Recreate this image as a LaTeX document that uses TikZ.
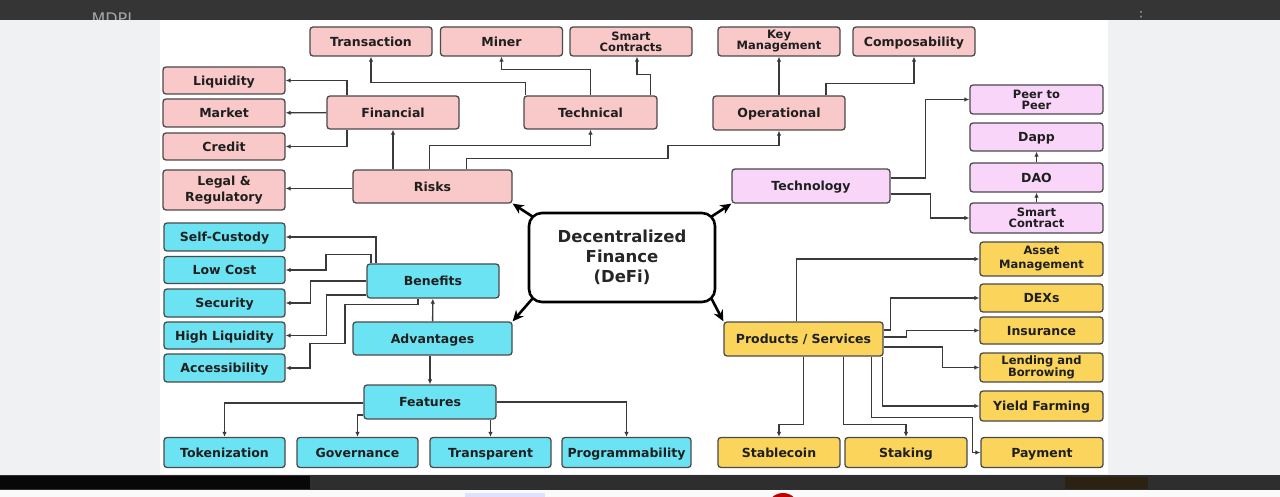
\documentclass[tikz,border=0pt]{standalone}
\usepackage{fontspec}
\setmainfont{DejaVu Sans}
\usetikzlibrary{positioning,arrows.meta}
\definecolor{riskfill}{HTML}{F9C8C8}
\definecolor{techfill}{HTML}{F9D6F9}
\definecolor{advfill}{HTML}{6CE3F2}
\definecolor{prodfill}{HTML}{FBD55B}
\definecolor{edge}{HTML}{4A4A4A}
\definecolor{wire}{HTML}{3A3A3A}
\definecolor{chrome}{HTML}{353535}
\definecolor{pagegray}{HTML}{F0F1F3}
\definecolor{tabbrown}{HTML}{2C2212}

\begin{document}
\begin{tikzpicture}[x=1pt,y=-1pt,
  b/.style={draw=edge,line width=1.3pt,rounded corners=3pt,align=center,inner sep=0pt,
    text=black!88,minimum width=122pt,minimum height=29pt,text height=9.4pt,text depth=0pt,
    font=\bfseries\fontsize{12.5}{15}\selectfont},
  sm/.style={text height=,text depth=,font=\bfseries\fontsize{11.5}{11}\selectfont},
  riskbox/.style={b,fill=riskfill},
  techbox/.style={b,fill=techfill},
  advbox/.style={b,fill=advfill},
  prodbox/.style={b,fill=prodfill},
  ln/.style={draw=wire,line width=1.4pt,-{Latex[length=5pt,width=4.5pt]}},
  big/.style={line width=2.6pt,-{Stealth[length=11pt,width=10pt]}}]

  % screen around the figure
  \useasboundingbox (0,0) rectangle (1280,497);
  \begin{scope}
    \clip (0,0) rectangle (1280,497);
    \fill[chrome] (0,0) rectangle (1280,20);
    \node[text=gray!70,font=\fontsize{16}{16}\selectfont,anchor=west] (mdpi) at (88,19) {MDPI};
    \node[text=gray!70,font=\fontsize{14}{14}\selectfont] (dots) at (1141,17) {⋮};
    \fill[pagegray] (0,20) rectangle (1280,497);
    \fill[white] (160,20) rectangle (1108,474);
    \fill[black!82] (0,475) rectangle (1280,490);
    \fill[black!97] (0,476) rectangle (310,489);
    \fill[tabbrown] (1065,477) rectangle (1148,489);
    \fill[white!98!black] (0,490) rectangle (1280,497);
    \fill[blue!12] (465,493) rectangle (545,503);
    \fill[red!75!black] (783,509) circle (16);
  \end{scope}

  \node[riskbox] (trn) at (371,41.5) {Transaction};
  \node[riskbox] (mnr) at (501.5,41.5) {Miner};
  \node[riskbox,sm] (smc) at (631,41.5) {Smart\\Contracts};
  \node[riskbox,sm] (key) at (779,41.5) {Key\\Management};
  \node[riskbox] (cmp) at (914,41.5) {Composability};

  \node[riskbox,minimum height=27pt] (liq) at (224,80.5) {Liquidity};
  \node[riskbox,minimum height=28pt] (mkt) at (224,113) {Market};
  \node[riskbox,minimum height=27pt] (crd) at (224,146.5) {Credit};
  \node[riskbox,sm,minimum height=40pt,font=\bfseries\fontsize{12.5}{16}\selectfont] (leg) at (224,190) {Legal \&\\Regulatory};
  \node[riskbox,minimum width=132pt,minimum height=33pt] (fin) at (393,112.5) {Financial};
  \node[riskbox,minimum width=133pt,minimum height=33pt] (tec) at (590.5,112.5) {Technical};
  \node[riskbox,minimum width=132pt,minimum height=34pt] (opr) at (779,113) {Operational};
  \node[riskbox,minimum width=159pt,minimum height=33pt] (rsk) at (432.5,186.5) {Risks};

  \node[techbox,minimum width=158pt,minimum height=34pt] (tch) at (811,186) {Technology};
  \node[techbox,sm,minimum width=133pt] (p2p) at (1036.5,99.5) {Peer to\\Peer};
  \node[techbox,minimum width=133pt,minimum height=28pt] (dap) at (1036.5,137) {Dapp};
  \node[techbox,minimum width=133pt] (dao) at (1036.5,177.5) {DAO};
  \node[techbox,sm,minimum width=133pt,minimum height=30pt] (sct) at (1036.5,218) {Smart\\Contract};

  \node[draw=black,line width=2.6pt,rounded corners=13pt,fill=white,minimum width=186pt,
    minimum height=89pt,align=center,text=black!85,
    font=\bfseries\fontsize{16.5}{20}\selectfont] (dfi) at (622,257.5) {Decentralized\\Finance\\(DeFi)};

  \node[advbox,minimum width=121pt,minimum height=28pt] (slf) at (224.5,237) {Self-Custody};
  \node[advbox,minimum width=121pt,minimum height=27pt] (low) at (224.5,270) {Low Cost};
  \node[advbox,minimum width=121pt,minimum height=28pt] (sec) at (224.5,303) {Security};
  \node[advbox,minimum width=121pt,minimum height=27pt] (hlq) at (224.5,335.5) {High Liquidity};
  \node[advbox,minimum width=121pt,minimum height=28pt] (acc) at (224.5,368) {Accessibility};
  \node[advbox,minimum width=132pt,minimum height=34pt] (ben) at (433,281) {Benefits};
  \node[advbox,minimum width=159pt,minimum height=33pt] (adv) at (432.5,338.5) {Advantages};
  \node[advbox,minimum width=132pt,minimum height=34pt] (fea) at (430,402) {Features};
  \node[advbox,minimum width=121pt,minimum height=30pt] (tok) at (224.5,452.5) {Tokenization};
  \node[advbox,minimum width=121pt,minimum height=30pt] (gov) at (357.5,452.5) {Governance};
  \node[advbox,minimum width=121pt,minimum height=30pt] (trp) at (490.5,452.5) {Transparent};
  \node[advbox,minimum width=129pt,minimum height=30pt] (prg) at (626.5,452.5) {Programmability};

  \node[prodbox,minimum width=159pt,minimum height=34pt] (prd) at (803.5,339) {Products / Services};
  \node[prodbox,sm,minimum width=123pt,minimum height=34pt,font=\bfseries\fontsize{11.5}{14}\selectfont] (ast) at (1041.5,259) {Asset\\Management};
  \node[prodbox,minimum width=123pt,minimum height=28pt] (dex) at (1041.5,298) {DEXs};
  \node[prodbox,minimum width=123pt,minimum height=27pt] (ins) at (1041.5,330.5) {Insurance};
  \node[prodbox,sm,minimum width=123pt,minimum height=29pt,font=\bfseries\fontsize{11.5}{12.5}\selectfont] (lnd) at (1041.5,367.5) {Lending and\\Borrowing};
  \node[prodbox,minimum width=123pt,minimum height=30pt] (yld) at (1041.5,406) {Yield Farming};
  \node[prodbox,minimum width=122pt,minimum height=30pt] (stb) at (779,452.5) {Stablecoin};
  \node[prodbox,minimum width=122pt,minimum height=30pt] (stk) at (906,452.5) {Staking};
  \node[prodbox,minimum width=122pt,minimum height=30pt] (pay) at (1042,452.5) {Payment};

  \draw[ln] ([xshift=-65pt]tec.north) -- ++(0,-13) -| (trn);
  \draw[ln] (tec.north) -- ++(0,-26) -| (mnr);
  \draw[ln] ([xshift=60pt]tec.north) -- ++(0,-21) -| ([xshift=6pt]smc.south);
  \draw[ln] (opr) -- (key);
  \draw[ln] ([xshift=47pt]opr.north) -- ++(0,-12) -| (cmp);
  \draw[ln] ([xshift=-46pt]fin.north) |- (liq);
  \draw[ln] (fin) -- (mkt);
  \draw[ln] ([xshift=-46pt]fin.south) |- (crd);
  \draw[ln] (rsk.north -| fin) -- (fin);
  \draw[ln] ([yshift=-2pt]rsk.west) -- ([yshift=-2pt]rsk.west -| leg.east);
  \draw[ln] ([xshift=-3pt]rsk.north) -- ++(0,-24) -| (tec);
  \draw[ln] ([xshift=34pt]rsk.north) -- ++(0,-11) -- ++(201.5,0) -- ++(0,-13) -| (opr);

  \draw[ln] ([yshift=8pt]tch.east) -- ++(35,0) |- (p2p);
  \draw[ln] ([yshift=-8pt]tch.east) -- ++(40,0) |- (sct);
  \draw[ln] (sct) -- (dao);
  \draw[ln] (dao) -- (dap);

  \draw[ln] (adv) -- (ben);
  \draw[ln] (adv.south -| fea) -- (fea);
  \draw[ln] ([xshift=-57pt]ben.north) |- (slf);
  \draw[ln] ([xshift=-62pt]ben.north) -- ++(0,-9) -- ++(-45,0) |- (low);
  \draw[ln] (ben.west) -- ++(-56,0) |- (sec);
  \draw[ln] ([yshift=-14pt]ben.west) -- ++(-40,0) |- (hlq);
  \draw[ln] ([xshift=-15pt]ben.south) -- ++(0,6) -- ++(-73,0) -- ++(0,39) -- ++(-35,0) |- (acc);
  \draw[ln] ([yshift=-1pt]fea.west) -| (tok);
  \draw[ln] ([yshift=-13pt]fea.west) -| (gov);
  \draw[ln] (fea.south -| trp) -- (trp);
  \draw[ln] (fea.east) -| (prg);

  \draw[ln] ([xshift=-7pt]prd.north) |- (ast);
  \draw[ln] ([yshift=9pt]prd.east) -- ++(7,0) |- (dex);
  \draw[ln] ([yshift=2pt]prd.east) -- ++(23,0) |- (ins);
  \draw[ln] ([yshift=-8pt]prd.east) -- ++(59,0) |- (lnd);
  \draw[ln] ([xshift=-1pt]prd.south east) |- (yld);
  \draw[ln] ([xshift=68pt]prd.south) -- ++(0,61) -- ++(101,0) |- (pay);
  \draw[ln] (prd.south) -- ++(0,68) -| (stb);
  \draw[ln] ([xshift=40pt]prd.south) -- ++(0,68) -| (stk);

  \draw[big] ([shift={(5,5)}]dfi.north west) -- (rsk.south east);
  \draw[big] ([shift={(-5,5)}]dfi.north east) -- (tch.south west);
  \draw[big] ([shift={(5,-5)}]dfi.south west) -- (adv.north east);
  \draw[big] ([shift={(-5,-5)}]dfi.south east) -- (prd.north west);
\end{tikzpicture}
\end{document}
